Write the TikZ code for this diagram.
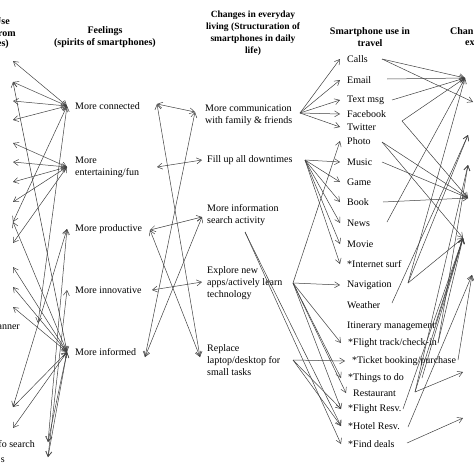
\documentclass[tikz,border=0pt]{standalone}
\usepackage{fontspec}
\setmainfont{Liberation Serif}
\usetikzlibrary{arrows.meta,positioning}
\tikzset{
item/.style={
  anchor=west,
  inner sep=0pt,
  align=left,
  font=\fontsize{10}{12}\selectfont
  },
head/.style={
  inner sep=0pt,
  align=center,
  font=\fontsize{10}{12}\selectfont\bfseries
  },
link/.style={-{Straight Barb[length=5pt,width=6pt]},line width=0.5pt,draw=black!75},
dlink/.style={{Straight Barb[length=5pt,width=6pt]}-{Straight Barb[length=5pt,width=6pt]},line width=0.5pt,draw=black!75}
}

\begin{document}
\begin{tikzpicture}[x=1pt,y=-1pt]
\useasboundingbox (0,0) rectangle (474,474);

% headers
\node[head,anchor=east] (use1) at (10,21) {Use};
\node[head,anchor=east] (use2) at (16,33) {from};
\node[head,anchor=east] (use3) at (9,44) {es)};
\node[head] (feel) at (105,37) {Feelings\\(spirits of smartphones)};
\node[head,font=\fontsize{9.5}{12}\selectfont\bfseries] (struct) at (253,33) {Changes in everyday\\living (Structuration of\\smartphones in daily\\life)};
\node[head] (travel) at (370,37) {Smartphone use in\\travel};
\node[head,anchor=west] (chg1) at (450,31) {Chan};
\node[head,anchor=west] (chg2) at (465,43) {ex};

% left column (cut off)
\node[item,anchor=east] (planner) at (20,327) {anner};
\node[item,anchor=east] (search) at (35,444) {Info search};
\node[item,anchor=east] (tools) at (5,460) {s};

% feelings
\node[item] (conn) at (75,106) {More connected};
\node[item] (ent) at (75,167) {More\\entertaining/fun};
\node[item] (prod) at (75,229) {More productive};
\node[item] (innov) at (75,290) {More innovative};
\node[item] (inform) at (75,352) {More informed};

% everyday living
\node[item] (comm) at (205,115) {More communication\\with family \& friends};
\node[item] (fill) at (207,160) {Fill up all downtimes};
\node[item] (info) at (207,215) {More information\\search activity};
\node[item] (explore) at (207,283) {Explore new\\apps/actively learn\\technology};
\node[item] (replace) at (207,360) {Replace\\laptop/desktop for\\small tasks};

% smartphone use in travel
\node[item] (calls) at (347,59) {Calls};
\node[item] (email) at (347,80) {Email};
\node[item] (textmsg) at (347,100) {Text msg};
\node[item] (facebook) at (347,114) {Facebook};
\node[item] (twitter) at (347,127) {Twitter};
\node[item] (photo) at (347,141) {Photo};
\node[item] (music) at (347,162) {Music};
\node[item] (game) at (347,182) {Game};
\node[item] (book) at (347,202) {Book};
\node[item] (news) at (347,223) {News};
\node[item] (movie) at (347,244) {Movie};
\node[item] (surf) at (347,264) {*Internet surf};
\node[item] (navi) at (347,285) {Navigation};
\node[item] (weather) at (347,305) {Weather};
\node[item] (itin) at (347,326) {Itinerary management};
\node[item] (ftrack) at (348,343) {*Flight track/check-in};
\node[item] (ticket) at (352,361) {*Ticket booking/purchase};
\node[item] (todo) at (348,378) {*Things to do};
\node[item] (rest) at (353,393) {Restaurant};
\node[item] (fresv) at (348,409) {*Flight Resv.};
\node[item] (hresv) at (348,426) {*Hotel Resv.};
\node[item] (deals) at (348,444) {*Find deals};

% end points on the cut-off left column
\foreach \y [count=\i] in {61,82,101,120,143,162,182,202,222,243,267,287,307}
  \coordinate (l\i) at (13,\y);
\coordinate (l14) at (38,323);
\coordinate (l15) at (13,407);
\coordinate (l16) at (13,428);
\coordinate (l17) at (48,442);
\coordinate (l18) at (48,457);

% ports of the feelings
\foreach \n in {conn,ent,prod,innov,inform}
  \coordinate (p\n) at ([xshift=-8pt]\n.west);
\coordinate (rconn) at (157,104);
\coordinate (rent) at (157,167);
\coordinate (rprod) at (150,230);
\coordinate (rinnov) at (152,290);
\coordinate (rinform) at (145,357);

% ports of everyday living
\coordinate (lcomm) at (195,112);
\coordinate (lfill) at (202,160);
\coordinate (linfo) at (202,217);
\coordinate (lexplore) at (202,282);
\coordinate (lreplace) at (200,357);
\coordinate (rcomm) at (300,113);
\coordinate (rfill) at (305,160);
\coordinate (rinfo) at (245,232);
\coordinate (rexplore) at (293,283);
\coordinate (rreplace) at (293,360);

% right ends of the travel uses
\coordinate (ocalls) at (382,59);
\coordinate (oemail) at (387,79);
\coordinate (otextmsg) at (392,100);
\coordinate (ofb) at (402,121);
\coordinate (ophoto) at (382,142);
\coordinate (omusic) at (382,162);
\coordinate (obook) at (383,202);
\coordinate (onews) at (387,222);
\coordinate (onavi) at (408,283);
\coordinate (oweather) at (392,303);
\coordinate (oitin) at (435,325);
\coordinate (oftrack) at (438,343);
\coordinate (oticket) at (458,360);
\coordinate (otodo) at (422,378);
\coordinate (orest) at (415,392);
\coordinate (ofresv) at (403,409);
\coordinate (ohresv) at (408,427);
\coordinate (odeals) at (407,443);

% targets on the cut-off right column
\coordinate (ra) at (465,78);
\coordinate (rb) at (473,102);
\coordinate (rc) at (468,135);
\coordinate (rd) at (468,165);
\coordinate (re) at (468,198);
\coordinate (rf) at (463,238);
\coordinate (rg) at (472,275);
\coordinate (rh) at (463,372);
\coordinate (ri) at (463,418);

% feelings <-> left column
\foreach \t in {l1,l2,l3,l4,l9,l14}
  \draw[dlink] (pconn) -- (\t);
\foreach \t in {l5,l6,l7,l8,l10}
  \draw[dlink] (pent) -- (\t);
\foreach \t in {l15,l17}
  \draw[dlink] (pprod) -- (\t);
\draw[dlink] (pinnov) -- (l18);
\foreach \t in {l2,l9,l11,l12,l13,l15,l16,l17,l18}
  \draw[dlink] (pinform) -- (\t);

% feelings <-> everyday living
\draw[dlink] (rconn) -- (lcomm);
\draw[dlink] (rconn) -- (lreplace);
\draw[dlink] (lcomm) -- (rinform);
\draw[dlink] (rent) -- (lfill);
\draw[dlink] (rprod) -- (linfo);
\draw[dlink] (rprod) -- (lreplace);
\draw[dlink] (rinnov) -- (lexplore);
\draw[dlink] (linfo) -- (rinform);

% everyday living -> travel uses
\foreach \t in {calls,email,textmsg,facebook,twitter}
  \draw[link] (rcomm) -- ([xshift=-7pt]\t.west);
\foreach \t in {music,game,book,news,movie,surf}
  \draw[link] (rfill) -- ([xshift=-7pt]\t.west);
\foreach \t in {photo,navi,ftrack,todo,rest,fresv}
  \draw[link] (rexplore) -- ([xshift=-7pt]\t.west);
\foreach \t in {hresv,deals}
  \draw[link] (rinfo) -- ([xshift=-7pt]\t.west);
\foreach \t in {ticket,fresv,hresv}
  \draw[link] (rreplace) -- ([xshift=-7pt]\t.west);

% travel uses -> right column
\foreach \s/\t in {ocalls/ra,ocalls/rb,oemail/ra,otextmsg/ra,ofb/ra,ofb/re,
    onews/ra,ophoto/re,ophoto/rf,omusic/re,obook/re,onavi/ra,onavi/rc,onavi/rf,
    oweather/rc,oitin/rf,oftrack/rd,oftrack/rf,oticket/rg,otodo/rf,
    orest/rd,orest/rf,orest/rh,ofresv/rf,ohresv/rg,odeals/ri}
  \draw[link] (\s) -- (\t);

\end{tikzpicture}
\end{document}
